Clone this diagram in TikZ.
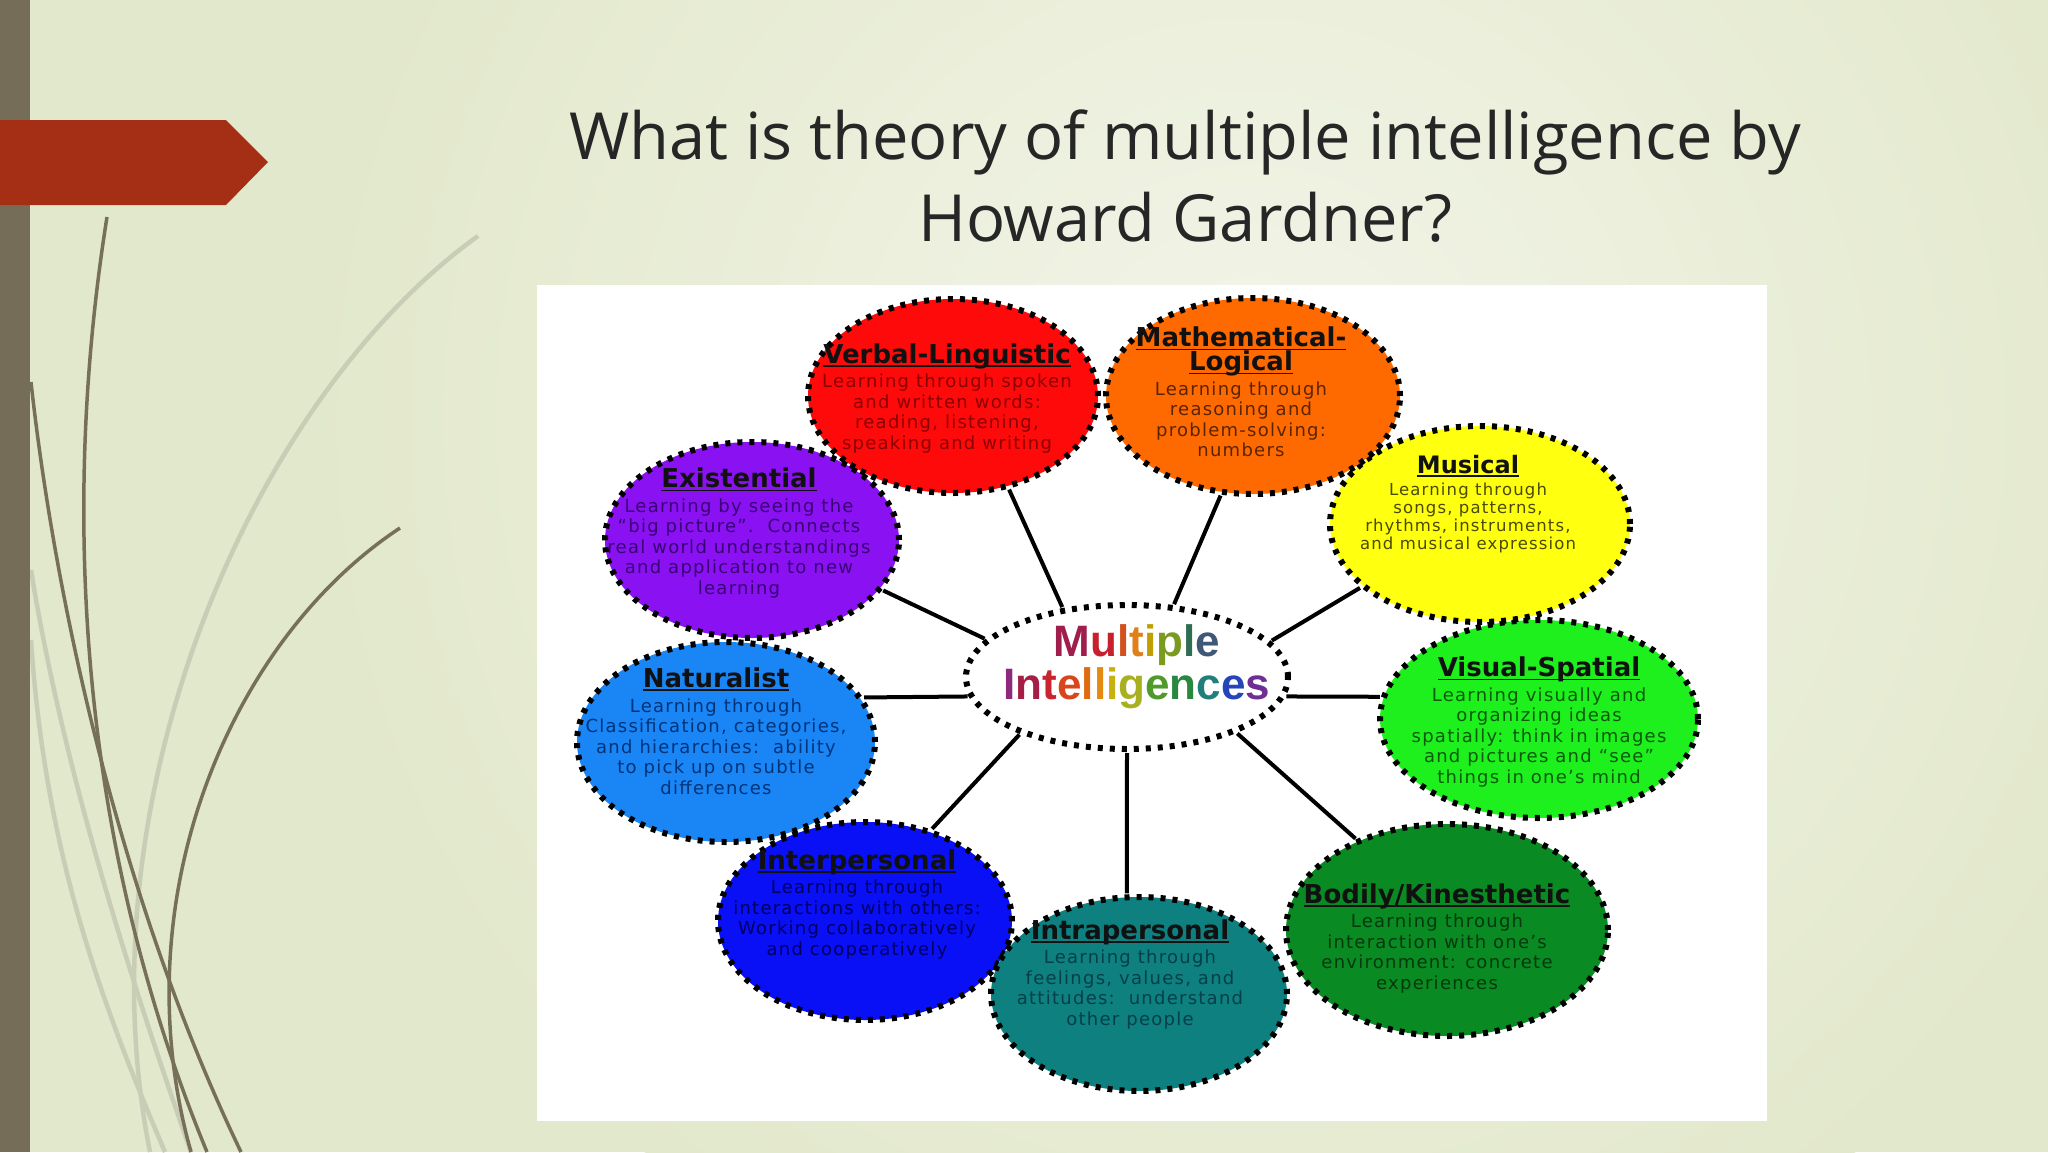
\documentclass[tikz,border=0pt]{standalone}
\usepackage{fontspec}
\setmainfont{DejaVu Sans}
\newfontfamily\bodyfont[LetterSpace=7]{DejaVu Sans}
\newfontfamily\titlefont{Open Sans}
\newfontfamily\arialfont{Liberation Sans}
\usetikzlibrary{shapes.geometric}
\definecolor{bgA}{HTML}{E2E8CB}
\definecolor{bgB}{HTML}{F3F5E9}
\definecolor{barC}{HTML}{766D58}
\definecolor{banC}{HTML}{A52F14}
\definecolor{swD}{HTML}{777059}
\definecolor{swL}{HTML}{C8CDB5}
\definecolor{ttl}{HTML}{262626}
\definecolor{hd}{HTML}{111111}
\definecolor{verF}{HTML}{FF0A0A}\definecolor{verT}{HTML}{8A0000}
\definecolor{matF}{HTML}{FF6A00}\definecolor{matT}{HTML}{5A2400}
\definecolor{musF}{HTML}{FFFF10}\definecolor{musT}{HTML}{4A4A00}
\definecolor{visF}{HTML}{1EF01E}\definecolor{visT}{HTML}{0A5A0A}
\definecolor{bodF}{HTML}{0A8A22}\definecolor{bodT}{HTML}{033A0C}
\definecolor{inaF}{HTML}{0E8080}\definecolor{inaT}{HTML}{043F4A}
\definecolor{intF}{HTML}{0A10F5}\definecolor{intT}{HTML}{000060}
\definecolor{natF}{HTML}{1A85F5}\definecolor{natT}{HTML}{00347A}
\definecolor{exiF}{HTML}{8A12F2}\definecolor{exiT}{HTML}{3A0075}
\definecolor{ma}{HTML}{A01E4B}\definecolor{mb}{HTML}{C8202D}\definecolor{mc}{HTML}{D2501E}
\definecolor{md}{HTML}{E0801A}\definecolor{me}{HTML}{C0A000}\definecolor{mf}{HTML}{7A9A20}
\definecolor{mg}{HTML}{2F6E52}\definecolor{mh}{HTML}{405878}
\definecolor{ia}{HTML}{8E2A7E}\definecolor{ib}{HTML}{A51E45}\definecolor{ic}{HTML}{C82530}
\definecolor{id}{HTML}{D8461E}\definecolor{ie}{HTML}{E06A10}\definecolor{if}{HTML}{E58A10}
\definecolor{ig}{HTML}{C8B010}\definecolor{ih}{HTML}{A8B020}\definecolor{ii}{HTML}{4F9A2A}
\definecolor{ij}{HTML}{2A8740}\definecolor{ik}{HTML}{1F7F7A}\definecolor{il}{HTML}{2446B8}
\definecolor{im}{HTML}{6E2E96}
\newcommand\ulx[1]{\setbox0=\hbox{#1}\rlap{\rule[-3.5pt]{\wd0}{1.6pt}}\box0}
\newcommand\btitle[1]{{\rmfamily\bfseries\fontsize{26}{26}\selectfont\color{hd}\ulx{#1}}}
\newcommand\stitle[1]{{\rmfamily\bfseries\fontsize{24}{24}\selectfont\color{hd}\ulx{#1}}}
\newcommand\lc[2]{\textcolor{#1}{#2}}
\begin{document}
\begin{tikzpicture}[x=1pt,y=-1pt,
  bubble/.style={ellipse, draw=black, line width=6pt, dash pattern=on 5pt off 7pt, inner sep=0pt},
  conn/.style={line width=4pt, black, shorten >=1pt, shorten <=1pt},
  btext/.style={align=center, inner sep=0pt, font=\bodyfont\fontsize{18}{20.5}\selectfont},
  mtext/.style={align=center, inner sep=0pt, font=\bodyfont\fontsize{16.5}{18}\selectfont},
  swdark/.style={swD, line width=3.5pt},
  swlight/.style={swL, line width=4.5pt}]
\useasboundingbox (0,0) rectangle (2048,1152);
% background
\fill[bgA] (0,0) rectangle (2048,1152);
\shade[inner color=bgB, outer color=bgA] (1250,420) circle (950);
% swooshes
\draw[swlight] (478,236) .. controls (250,400) and (80,800) .. (150,1152);
\draw[swlight] (31,570) .. controls (60,750) and (120,950) .. (191,1152);
\draw[swlight] (31,640) .. controls (45,850) and (100,1000) .. (165,1152);
\draw[swdark] (107,217) .. controls (65,480) and (70,820) .. (207,1152);
\draw[swdark] (31,382) .. controls (55,600) and (120,900) .. (241,1152);
\draw[swdark] (400,528) .. controls (230,640) and (120,900) .. (191,1152);
% bar and banner
\fill[barC] (0,0) rectangle (30,1152);
\fill[banC] (0,120) -- (226,120) -- (268,162) -- (226,205) -- (0,205) -- cycle;
% title
\node[font=\titlefont\fontsize{65}{70}\selectfont, text=ttl, anchor=base, inner sep=0pt] (t1) at (1185,159) {What is theory of multiple intelligence by};
\node[font=\titlefont\fontsize{65}{70}\selectfont, text=ttl, anchor=base, inner sep=0pt] (t2) at (1185,241) {Howard Gardner?};
% panel
\fill[white] (537,285) rectangle (1767,1121);
% bubbles
\node[bubble, fill=exiF, minimum width=294pt, minimum height=196pt] (exi) at (752,540) {};
\node[bubble, fill=natF, minimum width=298pt, minimum height=200pt] (nat) at (726,742) {};
\node[bubble, fill=intF, minimum width=294pt, minimum height=198pt] (int) at (865,921) {};
\node[bubble, fill=inaF, minimum width=296pt, minimum height=194pt] (ina) at (1139,994) {};
\node[bubble, fill=bodF, minimum width=322pt, minimum height=212pt] (bod) at (1447,930) {};
\node[bubble, fill=visF, minimum width=318pt, minimum height=198pt] (vis) at (1539,719) {};
\node[bubble, fill=musF, minimum width=300pt, minimum height=196pt] (mus) at (1480,524) {};
\node[bubble, fill=matF, minimum width=294pt, minimum height=196pt] (mat) at (1253,396) {};
\node[bubble, fill=verF, minimum width=290pt, minimum height=194pt] (ver) at (953,396) {};
\node[bubble, fill=white, minimum width=322pt, minimum height=144pt] (ctr) at (1127,677) {};
% connectors
\draw[conn] (ctr.133) -- (ver.301);
\draw[conn] (ctr.57) -- (mat.252);
\draw[conn] (ctr.14) -- (mus.208);
\draw[conn] (ctr.353) -- (vis.172);
\draw[conn] (ctr.333) -- (bod.135);
\draw[conn] (ctr.270) -- (ina.97);
\draw[conn] (ctr.208) -- (int.54);
\draw[conn] (ctr.187) -- (nat.18);
\draw[conn] (ctr.165) -- (exi.339);
% texts
\node[btext, text=verT] (vert) at (947,398) {\btitle{Verbal-Linguistic}\\[4pt]Learning through spoken\\and written words:\\reading, listening,\\speaking and writing};
\node[btext, text=matT] (matt) at (1241,392) {\btitle{Mathematical-}\\\btitle{Logical}\\[4pt]Learning through\\reasoning and\\problem-solving:\\numbers};
\node[mtext, text=musT] (must) at (1468,504) {\stitle{Musical}\\[4pt]Learning through\\songs, patterns,\\rhythms, instruments,\\and musical expression};
\node[btext, text=visT] (vist) at (1539,722) {\btitle{Visual-Spatial}\\[4pt]Learning visually and\\organizing ideas\\spatially: think in images\\and pictures and “see”\\things in one’s mind};
\node[btext, text=bodT] (bodt) at (1437,938) {\btitle{Bodily/Kinesthetic}\\[4pt]Learning through\\interaction with one’s\\environment: concrete\\experiences};
\node[btext, text=inaT] (inat) at (1130,974) {\btitle{Intrapersonal}\\[4pt]Learning through\\feelings, values, and\\attitudes:\ \ understand\\other people};
\node[btext, text=intT] (intt) at (857,904) {\btitle{Interpersonal}\\[4pt]Learning through\\interactions with others:\\Working collaboratively\\and cooperatively};
\node[btext, text=natT] (natt) at (716,731) {\btitle{Naturalist}\\[4pt]Learning through\\Classification, categories,\\and hierarchies:\ \ ability\\to pick up on subtle\\differences};
\node[btext, text=exiT] (exit) at (739,533) {\btitle{Existential}\\[4pt]Learning by seeing the\\“big picture”.\ \ Connects\\real world understandings\\and application to new\\learning};
\node[align=center, inner sep=0pt, font=\arialfont\bfseries\fontsize{44}{43}\selectfont] (ctrt) at (1137,667)
 {\lc{ma}{M}\lc{mb}{u}\lc{mc}{l}\lc{md}{t}\lc{me}{i}\lc{mf}{p}\lc{mg}{l}\lc{mh}{e}\\
  \lc{ia}{I}\lc{ib}{n}\lc{ic}{t}\lc{id}{e}\lc{ie}{l}\lc{if}{l}\lc{ig}{i}\lc{ih}{g}\lc{ii}{e}\lc{ij}{n}\lc{ik}{c}\lc{il}{e}\lc{im}{s}};
\end{tikzpicture}
\end{document}
